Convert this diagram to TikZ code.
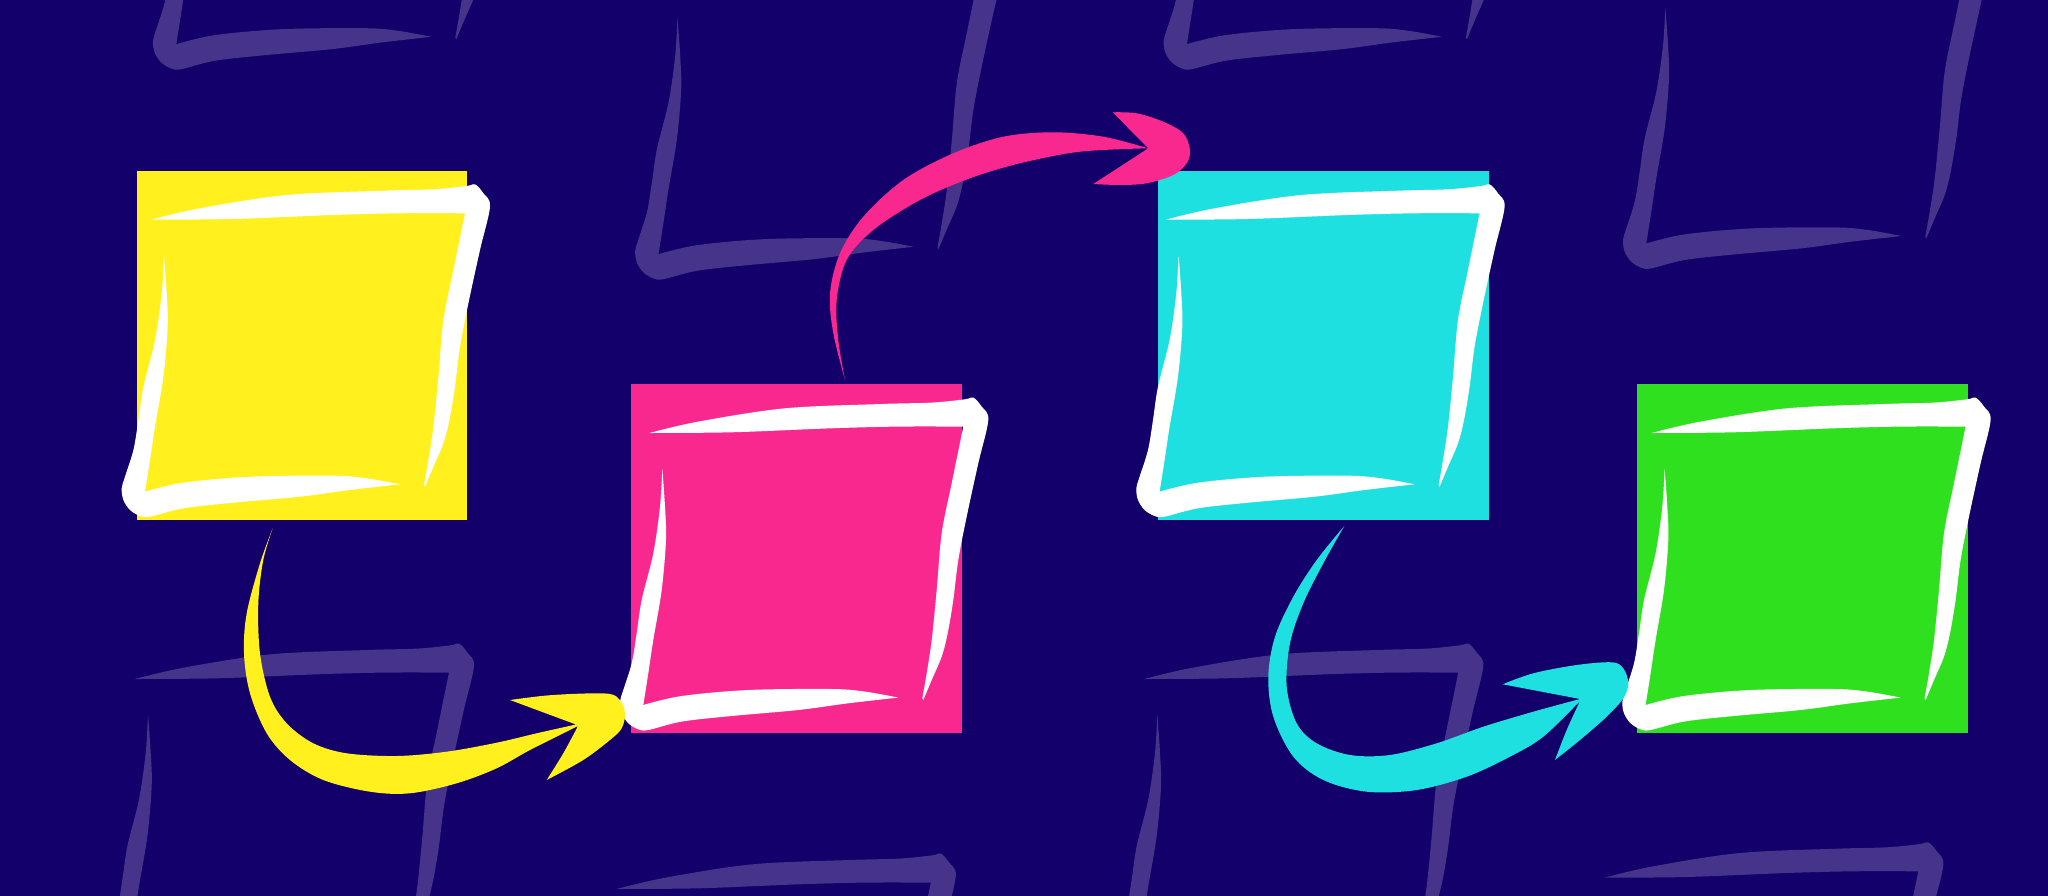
\documentclass[tikz,border=0pt]{standalone}
\usetikzlibrary{calc}
\definecolor{bgc}{HTML}{13006A}
\definecolor{faintc}{HTML}{46348A}
\definecolor{ycol}{HTML}{FFF01E}
\definecolor{pcol}{HTML}{F9288F}
\definecolor{ccol}{HTML}{1FE0E0}
\definecolor{gcol}{HTML}{2EE01E}
\tikzset{
  box/.style={draw=none, inner sep=0pt, outer sep=0pt, anchor=north west,
    minimum width=330.6pt, minimum height=349pt},
  brush/.style={smooth, tension=0.55}
}
\newcommand\brushframe[3]{%
\begin{scope}[shift={#1}, xshift=#3pt]
\fill[#2]
 plot[brush] coordinates {(14.3,48.7) (63.3,37.3) (150,24) (246.7,19.7) (296.7,18.3) (330,15) (338.3,13.3) (346.7,22.3) (353.3,35.7) (343.3,79) (331.7,132.3) (323.3,175.7) (318.3,215.7) (312.7,249) (306.7,272.3) (296.7,295.7) (288.3,315.7)}
 -- plot[brush] coordinates {(287.3,314) (291.7,289) (296.7,255.7) (301.7,205.7) (306.7,149) (316.7,99) (328.3,42.3)}
 -- plot[brush] coordinates {(328.3,42.3) (263.3,42.3) (196.7,44) (96.7,48) (14.3,48.7)} -- cycle
 plot[brush] coordinates {(27.3,84) (25,122.3) (18.3,169) (6.7,215.7) (1.7,249) (-3.3,279) (-11.7,305.7) (-15,317.3) (-13.3,329) (-6.7,339) (3.3,345) (13.3,345.7) (46.7,337.3) (96.7,331.7) (163.3,325.7) (213.3,319) (263.3,313.3)}
 -- plot[brush] coordinates {(263.3,313.3) (230,307.3) (196.7,304.7) (113.3,305.7) (46.7,311.7) (8.3,320.7)}
 -- plot[brush] coordinates {(8.3,320.7) (13.3,289) (18.3,255.7) (26.7,205.7) (31,155.7) (30,122.3) (27.3,84)} -- cycle;
\end{scope}}
\begin{document}
\begin{tikzpicture}[x=1pt, y=-1pt]
\useasboundingbox (0,0) rectangle (2048,896);
\fill[bgc] (0,0) rectangle (2048,896);
\begin{scope}
\clip (0,0) rectangle (2048,896);
% faint background frames
\coordinate (fA) at (168,-276.5);
\coordinate (fB) at (650.2,-66.5);
\coordinate (fC) at (120.7,630.3);
\coordinate (fD) at (602.5,840.3);
\coordinate (fE) at (1178.6,-276.5);
\coordinate (fF) at (1638,-77.3);
\coordinate (fG) at (1130,630.3);
\coordinate (fH) at (1590,829);
\brushframe{(fA)}{faintc}{0}
\brushframe{(fB)}{faintc}{0}
\brushframe{(fC)}{faintc}{0}
\brushframe{(fD)}{faintc}{0}
\brushframe{(fE)}{faintc}{0}
\brushframe{(fF)}{faintc}{0}
\brushframe{(fG)}{faintc}{0}
\brushframe{(fH)}{faintc}{0}
\end{scope}
% boxes
\node[box, fill=ycol] (yel) at (136.7,171) {};
\node[box, fill=pcol] (pin) at (631,384.3) {};
\node[box, fill=ccol] (cya) at (1158.3,171) {};
\node[box, fill=gcol] (gre) at (1637.3,384.3) {};
% white brush frames
\brushframe{(yel.north west)}{white}{0}
\brushframe{(pin.north west)}{white}{4}
\brushframe{(cya.north west)}{white}{-7}
\brushframe{(gre.north west)}{white}{0}
% yellow arrow
\fill[ycol] plot[brush] coordinates {(272.7,528.3) (263.3,560) (258.3,603.3) (260,653.3) (270,696.7) (286.7,723.3) (313.3,743.3) (346.7,753.3) (396.7,756) (446.7,751.7) (496.7,742.7) (536.7,733.3) (576,724.5)}
 -- (510,700)
 -- plot[brush] coordinates {(510,700) (546.7,695.5) (585,693.5) (610,694) (620,700) (625,713.3) (621.7,728.3) (610,740) (583.3,760) (546.7,780)}
 -- plot[brush] coordinates {(546.7,780) (563.3,753.3) (578,726)}
 -- plot[brush] coordinates {(578,726) (530,750) (496.7,768.3) (456.7,783.3) (410,793.3) (370,791.7) (323.3,780) (290,760) (266.7,733.3) (250,693.3) (244,653.3) (246.7,613.3) (260,563.3) (272.7,528.3)} -- cycle;
% pink arrow
\fill[pcol] plot[brush] coordinates {(845,380) (833.3,333.3) (830,293.3) (840,253.3) (863.3,216.7) (903.3,180) (953.3,153.3) (1003.3,136.7) (1053.3,132.3) (1103.3,136.7) (1148.3,148.3)}
 -- (1112.7,112.3)
 -- plot[brush] coordinates {(1112.7,112.3) (1136.7,113.3) (1163.3,121.7) (1183.3,133.3) (1190,150) (1186.7,163.3) (1173.3,175) (1146.7,183.3) (1120,185) (1093.3,184)}
 -- plot[brush] coordinates {(1093.3,184) (1120,166.7) (1148.3,148.3)}
 -- plot[brush] coordinates {(1148.3,148.3) (1080,151.7) (1020,163.3) (970,178.3) (920,200) (873.3,230) (846.7,260) (836.7,300) (838.3,340) (845,380)} -- cycle;
% cyan arrow
\fill[ccol] plot[brush] coordinates {(1344.3,526) (1323.3,563.3) (1303.3,603.3) (1290,643.3) (1286.7,686.7) (1296.7,723.3) (1316.7,743.3) (1350,755) (1390,755) (1436.7,743.3) (1483.3,726.7) (1533.3,711.7) (1580,699)}
 -- (1502.7,684.3)
 -- plot[brush] coordinates {(1502.7,684.3) (1533.3,673.3) (1576.7,665) (1611.7,662.3) (1623.3,668.3) (1628.3,683.3) (1623.3,698.3) (1606.7,716.7) (1580,740) (1555,760)}
 -- plot[brush] coordinates {(1555,760) (1566.7,730) (1580,701)}
 -- plot[brush] coordinates {(1580,701) (1543.3,736.7) (1510,756.7) (1466.7,776.7) (1416.7,790) (1366.7,791.7) (1323.3,780) (1293.3,756.7) (1273.3,716.7) (1268.3,676.7) (1275,636.7) (1293.3,596.7) (1316.7,560) (1344.3,526)} -- cycle;
\end{tikzpicture}
\end{document}
